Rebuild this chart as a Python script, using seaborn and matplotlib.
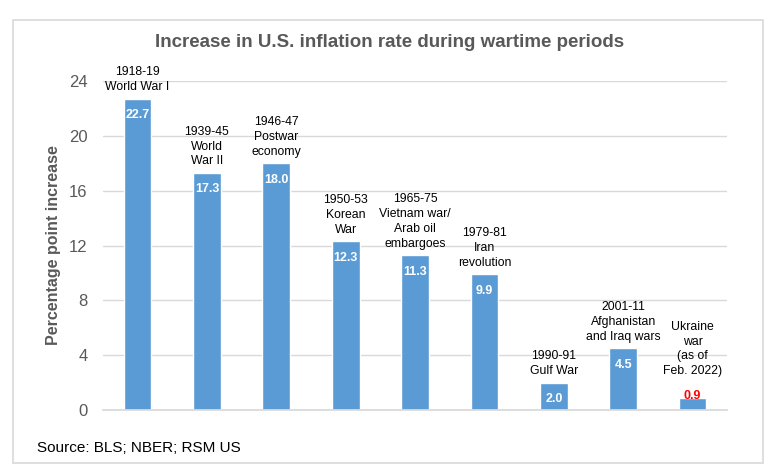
import matplotlib.pyplot as plt
import seaborn as sns
import pandas as pd
from matplotlib.patches import Rectangle

# data
periods = ["1918-19\nWorld War I", "1939-45\nWorld\nWar II", "1946-47\nPostwar\neconomy",
           "1950-53\nKorean\nWar", "1965-75\nVietnam war/\nArab oil\nembargoes",
           "1979-81\nIran\nrevolution", "1990-91\nGulf War",
           "2001-11\nAfghanistan\nand Iraq wars", "Ukraine\nwar\n(as of\nFeb. 2022)"]
increase = [22.7, 17.3, 18.0, 12.3, 11.3, 9.9, 2.0, 4.5, 0.9]
yticks = [0, 4, 8, 12, 16, 20, 24]

df = pd.DataFrame({"period": periods, "increase": increase})

sns.set_theme(style="white")
plt.rcParams["font.family"] = ["Liberation Sans", "DejaVu Sans"]

fig = plt.figure(figsize=(7.68, 4.65), dpi=100)
ax = fig.add_axes([0.134, 0.118, 0.813, 0.708])

# outer frame of the chart
fig.patches.append(Rectangle((13 / 768, 2 / 465), 750 / 768, 443 / 465, transform=fig.transFigure,
                             fill=False, edgecolor="#d9d9d9", linewidth=1.2))

sns.barplot(data=df, x="period", y="increase", color="#5B9BD5", width=0.4,
            saturation=1, ax=ax, zorder=2)

ax.set_ylim(0, 24)
ax.set_xlim(-0.5, len(periods) - 0.5)
ax.set_yticks(yticks)
ax.set_yticklabels([str(t) for t in yticks], fontsize=12, color="#595959")
ax.set_xticks([])
ax.set_xlabel("")
ax.set_ylabel("Percentage point increase", fontsize=11.5, fontweight="bold",
              color="#595959", labelpad=6)
ax.tick_params(axis="y", length=0, pad=11)
ax.grid(axis="y", color="#d9d9d9", linewidth=1, zorder=0)
for s in ["top", "right", "left"]:
    ax.spines[s].set_visible(False)
ax.spines["bottom"].set_color("#d9d9d9")

# labels
for i, (lab, v) in enumerate(zip(periods, increase)):
    if i == len(periods) - 1:
        ax.annotate(f"{v:.1f}", (i, v), xytext=(0, -3), textcoords="offset points",
                    ha="center", va="bottom", fontsize=9, fontweight="bold", color="red")
        off = 15
    else:
        ax.annotate(f"{v:.1f}", (i, v), xytext=(0, -12), textcoords="offset points",
                    ha="center", va="center", fontsize=9, fontweight="bold", color="white")
        off = 4
    ax.annotate(lab, (i, v), xytext=(0, off), textcoords="offset points",
                ha="center", va="bottom", fontsize=8.8, color="black", linespacing=1.3,
                annotation_clip=False)

fig.text(0.507, 0.908, "Increase in U.S. inflation rate during wartime periods",
         ha="center", va="center", fontsize=13.5, fontweight="bold", color="#595959")
fig.text(37 / 768, 1 - 448 / 465, "Source: BLS; NBER; RSM US", ha="left", va="center",
         fontsize=11, color="black")

fig.savefig("out.png", dpi=100)
